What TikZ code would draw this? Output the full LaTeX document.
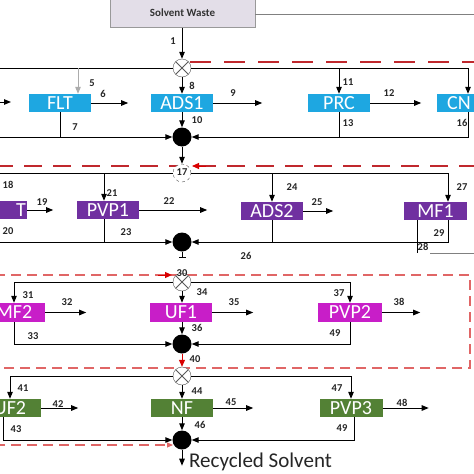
\documentclass[tikz,border=0pt]{standalone}
\usepackage{fontspec}
\setmainfont{Carlito}
\usetikzlibrary{arrows.meta, positioning, calc}

\definecolor{unitblue}{HTML}{1EA7E1}
\definecolor{unitpurple}{HTML}{7030A0}
\definecolor{unitmagenta}{HTML}{C81EC8}
\definecolor{unitgreen}{HTML}{538135}
\definecolor{wastefill}{HTML}{E3DEE8}
\definecolor{darkred}{HTML}{C0282D}
\definecolor{lightred}{HTML}{E06666}

\begin{document}
\begin{tikzpicture}[
    x=1pt, y=-1pt,
    unit/.style={fill=#1, minimum width=62pt, minimum height=18pt, inner sep=0pt,
                 text=white, font=\fontsize{20}{20}\selectfont},
    unittext/.style={inner sep=0pt, text=white, font=\fontsize{20}{20}\selectfont},
    num/.style={inner sep=0pt, text=black!85, font=\bfseries\fontsize{10.5}{10.5}\selectfont},
    mixer/.style={circle, fill=black, minimum size=19pt, inner sep=0pt},
    splitter/.style={circle, draw=gray!70!black, fill=white, minimum size=18pt, inner sep=0pt,
                     path picture={\draw[gray!70!black, line width=0.8pt]
                       (path picture bounding box.north west) -- (path picture bounding box.south east)
                       (path picture bounding box.north east) -- (path picture bounding box.south west);}},
    flow/.style={line width=1pt, -{Triangle[length=7pt, width=5.5pt]}},
    pipe/.style={line width=1pt},
    border/.style={darkred, line width=1.3pt, dash pattern=on 21pt off 13pt},
    borderlight/.style={lightred, line width=1.1pt, dash pattern=on 10pt off 6pt},
    redtip/.style={red!85!black, line width=1pt, -{Triangle[length=7pt, width=6pt]}}
  ]

  \useasboundingbox (0,0) rectangle (474,474);
  \clip (0,0) rectangle (474,474);
  \fill[white] (0,0) rectangle (474,474);

  % Dashed section borders
  \coordinate (rb1a) at (190,62);  \coordinate (rb1b) at (480,62);
  \coordinate (rb2a) at (-5,166);  \coordinate (rb2b) at (480,166);
  \coordinate (rb3a) at (-5,275);  \coordinate (rb3b) at (470,275);
  \coordinate (rb3c) at (470,368); \coordinate (rb3d) at (-5,368);
  \coordinate (rb4a) at (-5,445);
  \draw[border] (rb1a) -- (rb1b);
  \draw[border, dash pattern=on 18pt off 11pt] (rb2a) -- (rb2b);
  \draw[borderlight] (rb3a) -- (rb3b) -- (rb3c) -- (rb3d);

  % Feed
  \node[draw=gray!80, fill=wastefill, minimum width=145pt, minimum height=29pt,
        font=\bfseries\fontsize{11}{11}\selectfont, text=black!80] (waste) at (182.5,13) {Solvent Waste};

  % Splitters and mixers
  \node[splitter] (s1) at (182,68) {};
  \node[circle, draw=gray!70!black, dashed, fill=white, minimum size=18pt, inner sep=0pt] (s2) at (182,173) {};
  \node[splitter] (s3) at (182,282) {};
  \node[splitter] (s4) at (182,376) {};
  \node[mixer] (m1) at (182,137) {};
  \node[mixer] (m2) at (182,242) {};
  \node[mixer] (m3) at (182,344) {};
  \node[mixer] (m4) at (182,440) {};

  % Row 1 units
  \node[unit=unitblue] (flt) at (60,103) {FLT};
  \node[unit=unitblue] (ads1) at (182,103) {ADS1};
  \node[unit=unitblue] (prc) at (339,103) {PRC};
  \node[unit=unitblue] (cn) at (468,103) {};
  \node[unittext, anchor=west] (cntext) at (447,103) {CN};

  % Row 2 units
  \node[unit=unitpurple] (gt) at (-4,210) {};
  \node[unittext, anchor=east] (gttext) at (26,210) {T};
  \node[unit=unitpurple] (pvp1) at (108,210) {PVP1};
  \node[unit=unitpurple] (ads2) at (272,211) {ADS2};
  \node[unit=unitpurple, minimum width=63pt] (mf1) at (435.5,211) {MF1};

  % Row 3 units
  \node[unit=unitmagenta, minimum height=19pt] (mf2) at (14,312.5) {MF2};
  \node[unit=unitmagenta, minimum height=19pt] (uf1) at (181,312.5) {UF1};
  \node[unit=unitmagenta, minimum height=19pt, minimum width=64pt] (pvp2) at (350,312.5) {PVP2};

  % Row 4 units
  \node[unit=unitgreen] (uf2) at (10,408) {UF2};
  \node[unit=unitgreen] (nf) at (182,408) {NF};
  \node[unit=unitgreen, minimum width=63pt] (pvp3) at (351,408) {PVP3};

  % Free ends
  \coordinate (w1) at (-5,68);   \coordinate (t5) at (78,68);
  \coordinate (w4) at (-5,102);  \coordinate (e4) at (11,102);
  \coordinate (w7) at (-5,137);
  \coordinate (w18) at (-5,173); \coordinate (t27) at (448,173);
  \coordinate (w20) at (-5,242);
  \coordinate (b28) at (417,253); \coordinate (b29) at (448,242);
  \coordinate (g28) at (430,253); \coordinate (g28e) at (480,253);

  % Row 1 streams
  \draw[flow] (waste.south -| s1.north) -- (s1.north);
  \draw[gray, line width=0.8pt] (waste.east |- 0,14) -- ++(230,0);
  \draw[pipe] (w1) -- (s1.west);
  \draw[pipe] (s1.east) -- (cn.north |- s1);
  \draw[flow, gray!65] (t5) -- (t5 |- flt.north);
  \draw[flow] (prc.north |- s1) -- (prc.north);
  \draw[flow] (cn.north |- s1) -- (cn.north);
  \draw[flow] (s1.south) -- (ads1.north);
  \draw[flow] (w4) -- (e4);
  \draw[flow] (flt.east) -- ++(37,0);
  \draw[flow] (ads1.east) -- ++(49,0);
  \draw[flow] (prc.east) -- ++(51,0);
  \draw[flow] (ads1.south) -- (m1.north);
  \draw[flow] (w7) -- (m1.west);
  \draw[pipe] (flt.south) -- (flt.south |- m1);
  \draw[flow] (cn.south) |- (m1.east);
  \draw[pipe] (prc.south) -- (prc.south |- m1);
  \draw[flow] (m1.south) -- (s2.north);
  \draw[redtip] ([xshift=24pt, yshift=7pt]s2.center) -- ([xshift=10pt, yshift=7pt]s2.center);

  % Row 2 streams
  \draw[pipe] (w18) -- (s2.west);
  \draw[pipe] (s2.east) -- (t27);
  \draw[flow] ([xshift=-4pt]pvp1.north |- s2) -- ([xshift=-4pt]pvp1.north);
  \draw[flow] (ads2.north |- s2) -- (ads2.north);
  \draw[flow] (t27) -- (t27 |- mf1.north);
  \draw[flow] (gt.east) -- ++(26,0);
  \draw[flow] (pvp1.east) -- ++(68,0);
  \draw[flow] (ads2.east) -- ++(30,0);
  \draw[flow] (w20) -- (m2.west);
  \draw[pipe] ([xshift=-4pt]pvp1.south) -- ([xshift=-4pt]pvp1.south |- m2);
  \draw[pipe] (ads2.south) -- (ads2.south |- m2);
  \draw[pipe] (mf1.south -| b28) -- (b28);
  \draw[pipe] (mf1.south -| b29) -- (b29) -- (b29 -| b28);
  \draw[flow] (b29 -| b28) -- (m2.east);
  \draw[gray, line width=0.8pt] (g28) -- (g28e);
  \draw[pipe, -{Bar[width=7pt]}] (m2.south) -- ++(0,6);
  \draw[redtip] ([xshift=-24pt, yshift=7pt]s3.center) -- ([xshift=-10pt, yshift=7pt]s3.center);

  % Row 3 streams
  \draw[flow] (s3.west) -| (mf2.north);
  \draw[flow] (s3.east) -| (pvp2.north);
  \draw[flow] (s3.south) -- (s3.south |- uf1.north);
  \draw[flow] (mf2.east) -- ++(41,0);
  \draw[flow] (uf1.east) -- ++(41,0);
  \draw[flow] (pvp2.east) -- ++(38,0);
  \draw[flow] (mf2.south) |- (m3.west);
  \draw[flow] (uf1.south -| m3.north) -- (m3.north);
  \draw[flow] (pvp2.south) |- (m3.east);
  \draw[redtip] (m3.south) -- (s4.north);

  % Row 4 streams
  \draw[flow] (s4.west) -| (uf2.north);
  \draw[flow] (s4.east) -| (pvp3.north);
  \draw[flow] (s4.south) -- (nf.north);
  \draw[flow] (uf2.east) -- ++(37,0);
  \draw[flow] (nf.east) -- ++(40,0);
  \draw[flow] (pvp3.east) -- ++(46,0);
  \draw[flow] ([xshift=-7pt]uf2.south) |- (m4.west);
  \draw[flow] (nf.south) -- (m4.north);
  \draw[flow] ([xshift=3pt]pvp3.south) |- (m4.east);
  \draw[borderlight, -{Triangle[length=6pt, width=5pt]}] (rb4a) -- ([xshift=-9pt, yshift=-5pt]m4.center);
  \draw[flow] (m4.south) -- ++(0,16);
  \node[anchor=base west, inner sep=0pt, text=black!85, font=\fontsize{21}{21}\selectfont]
    (recycled) at (189,467) {Recycled Solvent};

  % Stream numbers
  \foreach \t/\x/\y [count=\i] in {
      1/173/41, 5/92/83, 6/103/94, 7/75/127, 8/192/86, 9/233/93, 10/197/120,
      11/348/82, 12/389/93, 13/348/123, 16/462/123, 17/182/172,
      18/8/185, 19/42/202, 20/8/231, 21/112/193, 22/169/201, 23/126/232,
      24/292/187, 25/317/202, 26/246/256, 27/462/187, 28/423/247, 29/439/233,
      30/182/273, 31/28/295, 32/67/302, 33/33/336, 34/202/292, 35/234/302,
      36/197/328, 37/339/293, 38/399/302, 49/335/333, 40/195/359,
      41/23/388, 42/58/404, 43/16/429, 44/197/391, 45/231/402, 46/200/425,
      47/337/388, 48/402/403, 49/342/428}
    \node[num] (n\i) at (\x,\y) {\t};

\end{tikzpicture}
\end{document}
